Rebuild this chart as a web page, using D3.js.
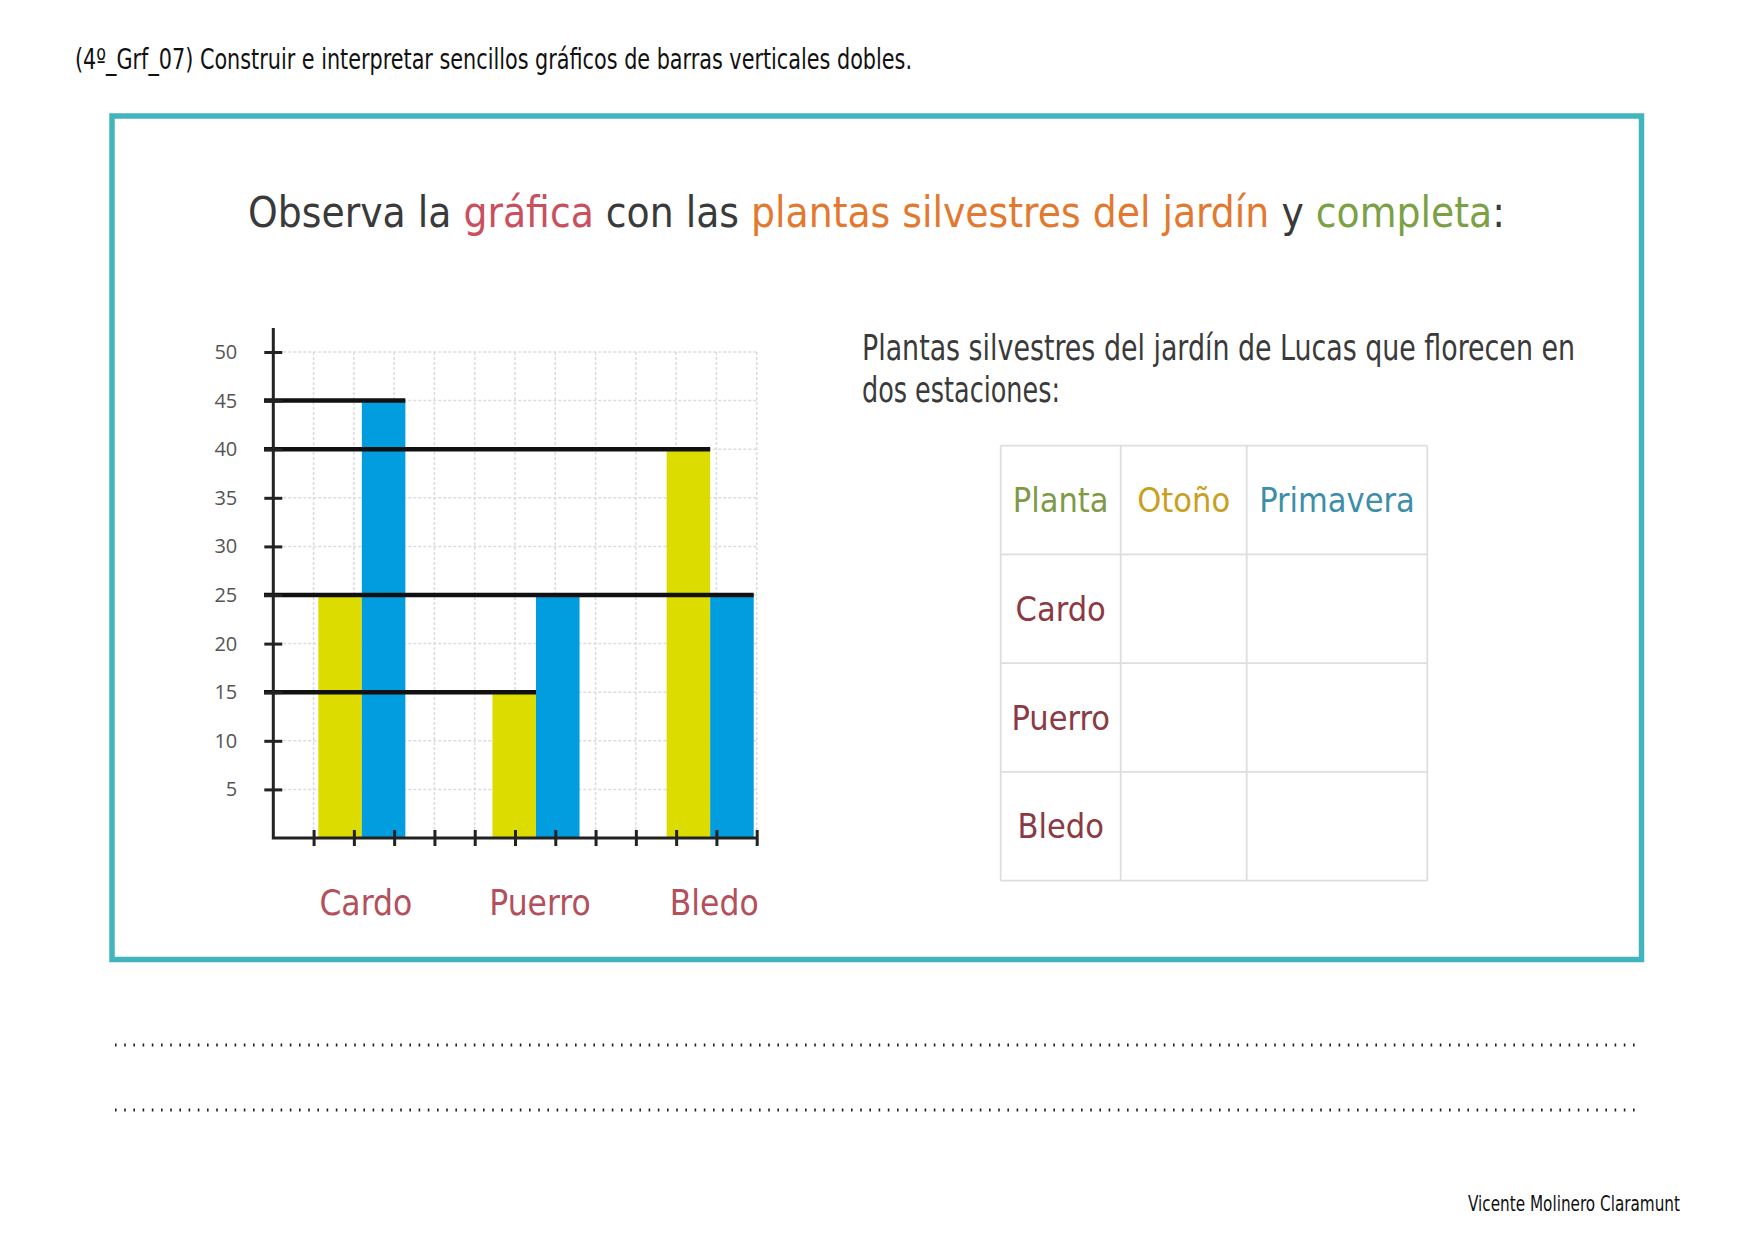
<!DOCTYPE html>
<html>
<head>
<meta charset="utf-8">
<script src="https://d3js.org/d3.v7.min.js"></script>
<style>
  body { margin: 0; background: #fff; }
  .script { font-family: "Liberation Sans Narrow", "DejaVu Sans Condensed", "Roboto", sans-serif; }
</style>
</head>
<body>
<div id="chart"></div>
<script>
// chart data
var categories = ["Cardo", "Puerro", "Bledo"];
var seasons = ["Otoño", "Primavera"];
var otono = [25, 15, 40];
var primavera = [45, 25, 25];
var yTicks = [5, 10, 15, 20, 25, 30, 35, 40, 45, 50];
var tableHeader = ["Planta", "Otoño", "Primavera"];

var W = 1754, H = 1241;
var svg = d3.select("#chart").append("svg")
  .attr("width", W).attr("height", H);

svg.append("rect").attr("width", W).attr("height", H).attr("fill", "#fff");

// heading line
svg.append("text").attr("class", "script")
  .attr("x", 75).attr("y", 69)
  .attr("font-size", 28).attr("fill", "#111")
  .attr("textLength", 837).attr("lengthAdjust", "spacingAndGlyphs")
  .text("(4º_Grf_07) Construir e interpretar sencillos gráficos de barras verticales dobles.");

// teal frame
svg.append("rect")
  .attr("x", 112).attr("y", 116)
  .attr("width", 1529.5).attr("height", 843.5)
  .attr("fill", "none").attr("stroke", "#42b4be").attr("stroke-width", 5.5);

// title, one text per coloured piece, sized to span 248..1505
var titleParts = [["Observa la", "#3a3a3a"], ["gráfica", "#c9505e"], ["con las", "#3a3a3a"],
  ["plantas silvestres del jardín", "#e3782f"], ["y", "#3a3a3a"],
  ["completa", "#7ba144"], [":", "#3a3a3a"]];
var titleG = svg.append("g");
var tParts = titleG.selectAll("text").data(titleParts).join("text")
  .attr("class", "script").attr("y", 227).attr("font-size", 50)
  .attr("fill", function (d) { return d[1]; })
  .text(function (d) { return d[0]; });
var spaceProbe = titleG.append("text").attr("class", "script").attr("font-size", 50)
  .style("white-space", "pre").text("a a");
var aProbe = titleG.append("text").attr("class", "script").attr("font-size", 50).text("aa");
var space50 = spaceProbe.node().getComputedTextLength() - aProbe.node().getComputedTextLength();
spaceProbe.remove(); aProbe.remove();
var widths50 = tParts.nodes().map(function (n) { return n.getComputedTextLength(); });
var gaps = titleParts.map(function (d, i) { return i === 0 || d[0] === ":" ? 0 : space50; });
var total50 = d3.sum(widths50) + d3.sum(gaps);
var k = 1257 / total50;
var cx = 248;
tParts.attr("font-size", 50 * k).each(function (d, i) {
  cx += gaps[i] * k;
  d3.select(this).attr("x", cx);
  cx += widths50[i] * k;
});

// scales
var y = d3.scaleLinear().domain([0, 50]).range([838, 352]);
var x0 = d3.scaleBand().domain(categories).range([273, 799])
  .paddingInner(0.5).paddingOuter(0.26);
var x1 = d3.scaleBand().domain(seasons).range([0, x0.bandwidth()]);
var gx = d3.scaleLinear().domain([0, 12]).range([273.3, 756.7]);
var color = d3.scaleOrdinal().domain(seasons).range(["#dcdc00", "#019ddf"]);

var plot = svg.append("g");

// grid
plot.append("g").selectAll("line").data(yTicks).join("line")
  .attr("x1", gx(0)).attr("x2", gx(12))
  .attr("y1", function (d) { return y(d); }).attr("y2", function (d) { return y(d); })
  .attr("stroke", "#dcdcdc").attr("stroke-width", 1.5).attr("stroke-dasharray", "3,2");
plot.append("g").selectAll("line").data(d3.range(1, 13)).join("line")
  .attr("x1", function (d) { return gx(d); }).attr("x2", function (d) { return gx(d); })
  .attr("y1", y(50)).attr("y2", y(0))
  .attr("stroke", "#dcdcdc").attr("stroke-width", 1.5).attr("stroke-dasharray", "3,2");

// bars
var bars = [];
categories.forEach(function (c, i) {
  bars.push({ cat: c, season: seasons[0], value: otono[i] });
  bars.push({ cat: c, season: seasons[1], value: primavera[i] });
});
function barLeft(d) { return x0(d.cat) + x1(d.season); }

plot.append("g").selectAll("rect").data(bars).join("rect")
  .attr("x", barLeft)
  .attr("y", function (d) { return y(d.value); })
  .attr("width", x1.bandwidth())
  .attr("height", function (d) { return y(0) - y(d.value); })
  .attr("fill", function (d) { return color(d.season); });

// reading lines from the axis to the far edge of each bar height
var levels = Array.from(new Set(bars.map(function (d) { return d.value; })));
var refs = levels.map(function (v) {
  return {
    value: v,
    end: d3.max(bars.filter(function (b) { return b.value === v; }),
      function (b) { return barLeft(b) + x1.bandwidth(); })
  };
});
plot.append("g").selectAll("line").data(refs).join("line")
  .attr("x1", 264).attr("x2", function (d) { return d.end; })
  .attr("y1", function (d) { return y(d.value); }).attr("y2", function (d) { return y(d.value); })
  .attr("stroke", "#111").attr("stroke-width", 4.5);

// axes
var yAxis = plot.append("g").attr("transform", "translate(273.3,0)")
  .call(d3.axisLeft(y).tickValues(yTicks).tickSize(9).tickPadding(27));
yAxis.select(".domain").remove();
yAxis.selectAll(".tick line").attr("x1", 9).attr("stroke", "#222").attr("stroke-width", 3);
yAxis.selectAll(".tick text")
  .attr("font-family", "'Open Sans', 'Noto Sans', sans-serif")
  .attr("font-size", 20).attr("fill", "#555");

var xAxis = plot.append("g").attr("transform", "translate(0,838)")
  .call(d3.axisBottom(gx).tickValues(d3.range(1, 13)).tickSize(8).tickFormat(""));
xAxis.select(".domain").remove();
xAxis.selectAll(".tick line").attr("y1", -8).attr("stroke", "#222").attr("stroke-width", 3);

plot.append("path")
  .attr("d", "M273.3,328V838H757")
  .attr("fill", "none").attr("stroke", "#222").attr("stroke-width", 3);

// category labels
plot.append("g").selectAll("text").data(categories).join("text")
  .attr("class", "script")
  .attr("x", function (d) { return x0(d) + x0.bandwidth() / 2 + 4; })
  .attr("y", 915)
  .attr("text-anchor", "middle")
  .attr("font-size", 35).attr("fill", "#b3505b")
  .text(function (d) { return d; });

// subtitle
svg.append("text").attr("class", "script")
  .attr("x", 862).attr("y", 360)
  .attr("font-size", 36).attr("fill", "#3a3a3a")
  .attr("textLength", 713).attr("lengthAdjust", "spacingAndGlyphs")
  .text("Plantas silvestres del jardín de Lucas que florecen en");
svg.append("text").attr("class", "script")
  .attr("x", 862).attr("y", 402)
  .attr("font-size", 36).attr("fill", "#3a3a3a")
  .attr("textLength", 198).attr("lengthAdjust", "spacingAndGlyphs")
  .text("dos estaciones:");

// table to complete
var colX = [1000.7, 1120.7, 1246.7, 1427.3];
var rowY = d3.range(categories.length + 2).map(function (i) { return 445.7 + i * 108.75; });
var table = svg.append("g");
table.selectAll("line.v").data(colX).join("line")
  .attr("x1", function (d) { return d; }).attr("x2", function (d) { return d; })
  .attr("y1", rowY[0]).attr("y2", rowY[rowY.length - 1])
  .attr("stroke", "#dedede").attr("stroke-width", 1.8);
table.selectAll("line.h").data(rowY).join("line")
  .attr("x1", colX[0]).attr("x2", colX[colX.length - 1])
  .attr("y1", function (d) { return d; }).attr("y2", function (d) { return d; })
  .attr("stroke", "#dedede").attr("stroke-width", 1.8);

var headColors = ["#7f9a47", "#c8a021", "#3d8fa9"];
table.selectAll("text.head").data(tableHeader).join("text")
  .attr("class", "script")
  .attr("x", function (d, i) { return (colX[i] + colX[i + 1]) / 2; })
  .attr("y", (rowY[0] + rowY[1]) / 2 + 12)
  .attr("text-anchor", "middle").attr("font-size", 34)
  .attr("fill", function (d, i) { return headColors[i]; })
  .text(function (d) { return d; });
table.selectAll("text.row").data(categories).join("text")
  .attr("class", "script")
  .attr("x", (colX[0] + colX[1]) / 2)
  .attr("y", function (d, i) { return (rowY[i + 1] + rowY[i + 2]) / 2 + 12; })
  .attr("text-anchor", "middle").attr("font-size", 34)
  .attr("fill", "#8b3a44")
  .text(function (d) { return d; });

// answer lines
svg.selectAll("line.dots").data([1045, 1110]).join("line")
  .attr("x1", 115).attr("x2", 1639)
  .attr("y1", function (d) { return d; }).attr("y2", function (d) { return d; })
  .attr("stroke", "#222").attr("stroke-width", 3).attr("stroke-dasharray", "1.6,7.6");

// author
svg.append("text").attr("class", "script")
  .attr("x", 1680).attr("y", 1211)
  .attr("text-anchor", "end").attr("font-size", 21).attr("fill", "#111")
  .attr("textLength", 212).attr("lengthAdjust", "spacingAndGlyphs")
  .text("Vicente Molinero Claramunt");
</script>
</body>
</html>
